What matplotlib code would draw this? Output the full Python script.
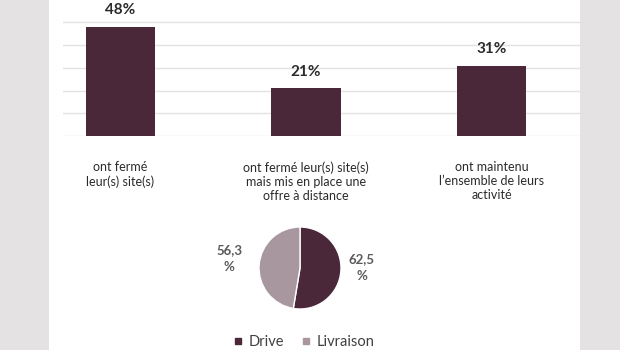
import matplotlib.pyplot as plt
from matplotlib.lines import Line2D
from matplotlib.patches import Rectangle

plt.rcParams['font.family'] = ['Lato', 'DejaVu Sans']

# bar chart data
categories = ["ont fermé\nleur(s) site(s)",
              "ont fermé leur(s) site(s)\nmais mis en place une\noffre à distance",
              "ont maintenu\nl’ensemble de leurs\nactivité"]
shares = [48, 21, 31]

# pie data
pie_labels = ["Drive", "Livraison"]
pie_values = [62.5, 56.3]
pie_texts = ["62,5\n%", "56,3\n%"]

dark = '#4a2739'
light = '#a8979f'
grid_col = '#e3e3e3'
text_col = '#2b2b2b'

W, H = 620, 350
fig = plt.figure(figsize=(W / 100, H / 100), dpi=100)
fig.patch.set_facecolor('#e4e2e3')
fig.patches.append(Rectangle((49 / W, 0), (580 - 49) / W, 1, transform=fig.transFigure,
                             facecolor='white', edgecolor='none', zorder=-10))

# bars: axes spans gridline extent (x 63..580 px, y 0..136 px)
ax = fig.add_axes([63 / W, (H - 136) / H, (580 - 63) / W, 136 / H])
ax.set_facecolor('none')
x = range(len(shares))
ax.bar(x, shares, width=0.377, color=dark, zorder=2)
unit = 185.5
ax.set_xlim(-(120.5 - 63) / unit, 2 + (580 - 491.5) / unit)
ax.set_ylim(0, 136 / 2.27)
ax.set_yticks([0, 10, 20, 30, 40, 50])
ax.yaxis.grid(True, color=grid_col, linewidth=1, zorder=0)
ax.set_axisbelow(True)
ax.tick_params(left=False, bottom=False, labelleft=False, labelbottom=False)
for s in ax.spines.values():
    s.set_visible(False)

for i, v in enumerate(shares):
    ax.annotate(f"{v}%", (i, v), xytext=(0, 12), textcoords='offset points',
                ha='center', va='center', fontsize=11, fontweight='bold', color=text_col)
    ax.annotate(categories[i], (i, 0), xytext=(0, -18), textcoords='offset points',
                ha='center', va='top', fontsize=9, color=text_col, annotation_clip=False)

# pie
cx, cy, r = 300, 268, 41
pax = fig.add_axes([(cx - r) / W, (H - cy - r) / H, 2 * r / W, 2 * r / H])
pax.pie(pie_values, colors=[dark, light], startangle=90, counterclock=False,
        wedgeprops=dict(edgecolor='white', linewidth=1))
pax.set_xlim(-1, 1)
pax.set_ylim(-1, 1)
pax.text(1.51, 0.02, pie_texts[0], ha='center', va='center', fontsize=9.5,
         color='#5a5a5a', fontweight='bold', linespacing=1.5, clip_on=False)
pax.text(-1.73, 0.24, pie_texts[1], ha='center', va='center', fontsize=9.5,
         color='#5a5a5a', fontweight='bold', linespacing=1.5, clip_on=False)

handles = [Line2D([], [], marker='s', linestyle='none', markersize=4.5,
                  markerfacecolor=c, markeredgecolor=c) for c in (dark, light)]
fig.legend(handles, pie_labels, loc='center', bbox_to_anchor=(304 / W, (H - 342) / H),
           ncol=2, frameon=False, fontsize=10.5, handlelength=0.6, handletextpad=0.4,
           columnspacing=1.2, labelcolor='#404040', borderaxespad=0, borderpad=0)

fig.savefig('out.png', dpi=100)
